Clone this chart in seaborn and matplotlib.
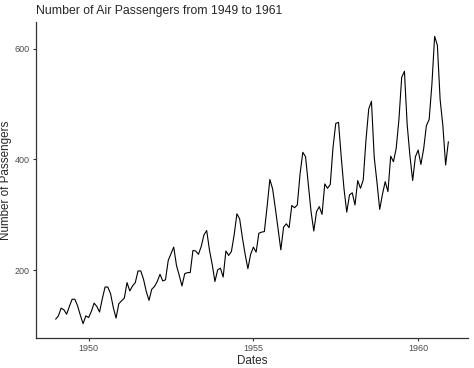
import numpy as np
import pandas as pd
import matplotlib
matplotlib.use("Agg")
import matplotlib.pyplot as plt
import seaborn as sns

# AirPassengers monthly totals, 1949-1960
passengers_1949 = [112, 118, 132, 129, 121, 135, 148, 148, 136, 119, 104, 118]
passengers_1950 = [115, 126, 141, 135, 125, 149, 170, 170, 158, 133, 114, 140]
passengers_1951 = [145, 150, 178, 163, 172, 178, 199, 199, 184, 162, 146, 166]
passengers_1952 = [171, 180, 193, 181, 183, 218, 230, 242, 209, 191, 172, 194]
passengers_1953 = [196, 196, 236, 235, 229, 243, 264, 272, 237, 211, 180, 201]
passengers_1954 = [204, 188, 235, 227, 234, 264, 302, 293, 259, 229, 203, 229]
passengers_1955 = [242, 233, 267, 269, 270, 315, 364, 347, 312, 274, 237, 278]
passengers_1956 = [284, 277, 317, 313, 318, 374, 413, 405, 355, 306, 271, 306]
passengers_1957 = [315, 301, 356, 348, 355, 422, 465, 467, 404, 347, 305, 336]
passengers_1958 = [340, 318, 362, 348, 363, 435, 491, 505, 404, 359, 310, 337]
passengers_1959 = [360, 342, 406, 396, 420, 472, 548, 559, 463, 407, 362, 405]
passengers_1960 = [417, 391, 419, 461, 472, 535, 622, 606, 508, 461, 390, 432]

years = list(range(1949, 1961))
values = (passengers_1949 + passengers_1950 + passengers_1951 + passengers_1952
          + passengers_1953 + passengers_1954 + passengers_1955 + passengers_1956
          + passengers_1957 + passengers_1958 + passengers_1959 + passengers_1960)
dates = [y + m / 12 for y in years for m in range(12)]
df = pd.DataFrame({"date": dates, "passengers": values})

sns.set_theme(style="ticks")
plt.rcParams["font.family"] = ["Liberation Sans", "DejaVu Sans"]

fig = plt.figure(figsize=(4.74, 3.68), dpi=100)
ax = fig.add_axes([36 / 474, 1 - 338 / 368, 432 / 474, 316 / 368])
sns.lineplot(data=df, x="date", y="passengers", ax=ax, color="black", linewidth=0.8)

xr = df["date"].max() - df["date"].min()
ax.set_xlim(df["date"].min() - 0.05 * xr, df["date"].max() + 0.05 * xr)
yr = df["passengers"].max() - df["passengers"].min()
ax.set_ylim(df["passengers"].min() - 0.05 * yr, df["passengers"].max() + 0.05 * yr)
ax.set_xticks([1950, 1955, 1960])
ax.set_yticks([200, 400, 600])
ax.tick_params(labelsize=6.5, colors="#333333", labelcolor="#4d4d4d", length=2.5, width=0.8, pad=2)
for side in ["left", "bottom"]:
    ax.spines[side].set_color("#333333")
    ax.spines[side].set_linewidth(0.9)
sns.despine(ax=ax)

ax.set_xlabel("Dates", fontsize=8.4, labelpad=1)
ax.set_ylabel("Number of Passengers", fontsize=8.4, labelpad=2)
ax.set_title("Number of Air Passengers from 1949 to 1961", fontsize=8.8, loc="left", pad=6)

fig.savefig("out.png", dpi=100)
